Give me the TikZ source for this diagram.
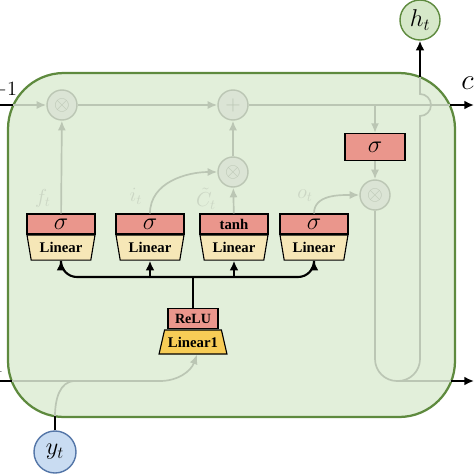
\documentclass[tikz,border=0pt]{standalone}
\usepackage{fontspec}
\setmainfont{Liberation Serif}
\usetikzlibrary{positioning,shapes.geometric,arrows.meta}

\definecolor{cellbg}{RGB}{226,239,218}
\definecolor{cellrim}{RGB}{94,138,62}
\definecolor{fadeline}{RGB}{187,198,180}
\definecolor{fadefill}{RGB}{219,228,213}
\definecolor{fadetext}{RGB}{203,214,196}
\definecolor{sigred}{RGB}{234,150,140}
\definecolor{linyel}{RGB}{246,231,183}
\definecolor{linorg}{RGB}{247,204,86}
\definecolor{htfill}{RGB}{214,232,201}
\definecolor{ytfill}{RGB}{201,220,242}
\definecolor{ytrim}{RGB}{84,118,168}

\begin{document}
\begin{tikzpicture}[x=0.025cm,y=-0.025cm,
    fade/.style={draw=fadeline, line width=1.2pt},
    fadearr/.style={fade, -{Latex[length=2.4mm,width=2mm]}},
    blk/.style={draw=black, line width=1.5pt},
    blkarr/.style={blk, -{Latex[length=2.4mm,width=2.2mm]}},
    op/.style={circle, draw=fadeline, fill=fadefill, line width=1pt, minimum size=0.75cm, inner sep=0pt, text=fadeline, font=\Large},
    sig/.style={rectangle, draw=black, fill=sigred, line width=0.8pt, minimum width=1.7cm, minimum height=0.5cm, inner sep=0pt},
    lin/.style={trapezium, shape border rotate=180, trapezium left angle=74, trapezium right angle=74, trapezium stretches=true,
                draw=black, fill=linyel, line width=0.8pt, minimum width=1.7cm, minimum height=0.625cm, inner sep=0pt,
                font=\fontsize{10.5}{12}\selectfont\bfseries},
    gatelbl/.style={text=fadetext, font=\Large},
    io/.style={circle, line width=1pt, minimum size=1cm, inner sep=0pt, font=\LARGE}
  ]
  \useasboundingbox (0,0) rectangle (474,474);

  \draw[cellrim, fill=cellbg, line width=1.6pt, rounded corners=1.4cm] (8,73) rectangle (455,417);

  % points where the lines cross the cell border
  \coordinate (cin) at (13,105);
  \coordinate (cout) at (450,105);
  \coordinate (cnext) at (474,105);
  \coordinate (hin) at (12,381);
  \coordinate (hout) at (451,381);
  \coordinate (hnext) at (474,381);
  \coordinate (htop) at (420,77);
  \coordinate (yin) at (55,416);

  \node (fx) [op] at (62,105) {$\otimes$};
  \node (add) [op] at (233,105) {$+$};
  \node (ix) [op] at (233,172) {$\otimes$};
  \node (ox) [op] at (375,195) {$\otimes$};
  \node (osig) [sig, minimum width=1.5cm, minimum height=0.675cm] at (375,147) {\LARGE$\sigma$};

  \node (sa) [sig] at (61,224) {\LARGE$\sigma$};
  \node (sb) [sig] at (150,224) {\LARGE$\sigma$};
  \node (sc) [sig] at (234,224) {\fontsize{10.5}{12}\selectfont\bfseries tanh};
  \node (sd) [sig] at (314,224) {\LARGE$\sigma$};
  \node (la) [lin, below=0pt of sa] {Linear};
  \node (lb) [lin, below=0pt of sb] {Linear};
  \node (lc) [lin, below=0pt of sc] {Linear};
  \node (ld) [lin, below=0pt of sd] {Linear};

  \node (l1) [trapezium, trapezium left angle=65, trapezium right angle=65, trapezium stretches=true, draw=black, fill=linorg,
              line width=0.8pt, minimum width=1.7cm, minimum height=0.6cm, inner sep=0pt,
              font=\fontsize{10.5}{12}\selectfont\bfseries] at (193,342) {Linear1};
  \node (relu) [sig, minimum width=1.25cm, above=0pt of l1, font=\bfseries] {ReLU};

  \node (ft) [gatelbl] at (43,198) {$f_t$};
  \node (it) [gatelbl] at (136,196) {$i_t$};
  \node (ct) [gatelbl] at (206,199) {$\tilde{C}_t$};
  \node (ot) [gatelbl] at (305,196) {$o_t$};

  \node (ht) [io, draw=cellrim, fill=htfill] at (420,20) {$h_t$};
  \node (yt) [io, draw=ytrim, fill=ytfill, minimum size=1.05cm] at (55,452) {$y_t$};

  \node (cprev) [anchor=base east, inner sep=0pt, font=\huge] at (18,91) {$c_{t-1}$};
  \node (cnow) [anchor=base west, inner sep=0pt, font=\huge] at (461,89) {$c_t$};
  \node (hprev) [anchor=base east, inner sep=0pt, font=\Large] at (4,369) {$h_{t-1}$};

  % cell state
  \draw[fadearr] (cin) -- (fx);
  \draw[fadearr] (fx) -- (add);
  \draw[fade] (add) -- (cout);
  \draw[blkarr] (cout) -- (cnext);
  \draw[blk] (0,105) -- (cin);

  % gates
  \draw[fadearr] (sa) -- (fx);
  \draw[fadearr] (sb.north) to[out=90, in=180] (ix.west);
  \draw[fadearr] (sc) -- (ix);
  \draw[fadearr] (ix) -- (add);
  \draw[fadearr] (sd.north) to[out=90, in=180] (ox.west);
  \draw[fadearr] (375,105) -- (osig);
  \draw[fadearr] (osig) -- (ox);

  % hidden state out
  \draw[fade, rounded corners=0.55cm] (ox) -- (375,381) -- (hout);
  \draw[fade] (htop) -- (420,94) arc[start angle=90, end angle=-90, radius=0.275cm] [rounded corners=0.55cm] -- (420,381) -- (398,381);
  \draw[blkarr] (htop) -- (ht);
  \draw[blkarr] (hout) -- (hnext);

  % inputs
  \draw[blk] (0,381) -- (hin);
  \draw[blk] (yt) -- (yin);
  \draw[fade] (yin) to[out=90, in=180] (75,381);
  \draw[fadearr] (hin) -- (160,381) to[out=0, in=-110] ([xshift=1mm]l1.south);

  % linear heads
  \coordinate (bus) at (0,277);
  \draw[blk] (relu) -- (relu |- bus);
  \draw[blkarr, {Latex[length=2.4mm,width=2.2mm]}-{Latex[length=2.4mm,width=2.2mm]}, rounded corners=0.4cm]
    (la.south) -- (la.south |- bus) -- (ld.south |- bus) -- (ld.south);
  \draw[blkarr] (lb.south |- bus) -- (lb.south);
  \draw[blkarr] (lc.south |- bus) -- (lc.south);
\end{tikzpicture}
\end{document}
